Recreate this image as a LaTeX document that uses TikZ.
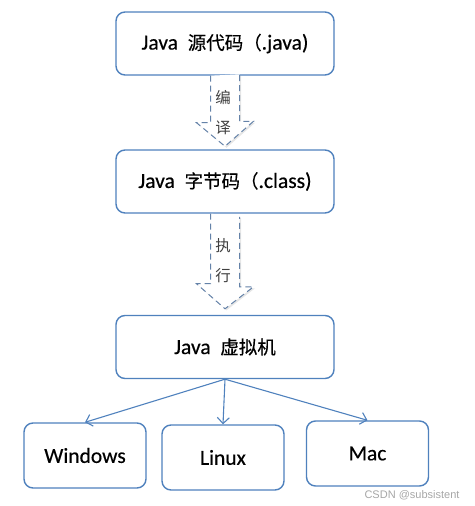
\documentclass[tikz,border=0pt]{standalone}
\usepackage{fontspec}
\setmainfont[FakeBold=0.4]{Carlito}
\newfontfamily\cjk[Scale=0.86]{Noto Sans CJK SC}
\newfontfamily\cjkheavy[Scale=0.86, FakeBold=0.4]{Noto Sans CJK SC}
\newfontfamily\markfont{Liberation Sans}
\usetikzlibrary{arrows.meta,calc,shadows}
\definecolor{boxblue}{RGB}{79,129,189}
\definecolor{arrowblue}{RGB}{100,130,168}

\begin{document}
\begin{tikzpicture}[
    x = 1pt, y = -1pt,
    box/.style = {
      draw = boxblue, line width = 1.4pt, rounded corners = 9pt, fill = white,
      minimum width = 218pt, minimum height = 63pt, inner sep = 0pt,
      font = \fontsize{21.5}{26}\selectfont
    },
    osbox/.style = { box, minimum width = 122pt, minimum height = 65pt },
    blockarrow/.style = {
      draw = arrowblue, dash pattern = on 6pt off 4pt, line width = 1pt,
      fill = white,
      drop shadow = {opacity = 0.2, shadow xshift = 1.5pt, shadow yshift = -1.5pt}
    },
    steplabel/.style = {
      align = center, text = black!75, font = \cjk\fontsize{18}{30}\selectfont
    },
    fork/.style = {
      draw = boxblue, line width = 1.1pt, -{Straight Barb[length=6pt, width=12pt]}
    }
  ]
  \useasboundingbox (0, 0) rectangle (474, 506);

  \node[box] (src) at (225, 43.5) {Java\ \ {\cjkheavy 源代码（}.java)};
  \node[box] (byte) at (225, 181.5) {Java\ \ {\cjkheavy 字节码（}.class)};
  \node[box] (vm) at (225, 347) {Java\ \ {\cjkheavy 虚拟机}};

  \node[osbox] (win) at (85, 455.5) {Windows};
  \node[osbox] (linux) at (223, 457.5) {Linux};
  \node[osbox] (mac) at (367.5, 453.5) {Mac};

  \foreach \a/\b/\len/\gap in {src/byte/47/3, byte/vm/70/6}
    \draw[blockarrow] ($(\a.south) + (-14.5, 0)$) -- ++(0, \len) -- ++(-14, 0)
      -- ($(\b.north) + (0, -\gap)$) -- ++(28.5, -25 + \gap - 3) -- ++(-14, 0)
      -- ++(0, -\len);

  \node[steplabel] (compile) at (223, 113) {编\\译};
  \node[steplabel] (run) at (223, 261) {执\\行};

  \foreach \os in {win, linux, mac}
    \draw[fork] (vm.south) -- (\os.north);

  \node[anchor = east, text = black!35, font = \markfont\fontsize{11}{11}\selectfont]
    (mark) at (463, 495) {CSDN @subsistent};
\end{tikzpicture}
\end{document}
